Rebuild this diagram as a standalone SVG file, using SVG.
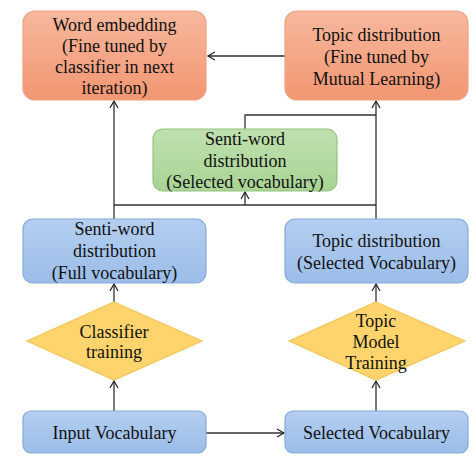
<svg xmlns="http://www.w3.org/2000/svg" width="474" height="461" viewBox="0 0 474 461">
<defs>
<linearGradient id="gOr" x1="0" y1="0" x2="0" y2="1"><stop offset="0" stop-color="#F7B89D"/><stop offset="1" stop-color="#F29672"/></linearGradient>
<linearGradient id="gGr" x1="0" y1="0" x2="0" y2="1"><stop offset="0" stop-color="#BFE0AE"/><stop offset="1" stop-color="#A9D394"/></linearGradient>
<linearGradient id="gBl" x1="0" y1="0" x2="0" y2="1"><stop offset="0" stop-color="#B4CEF0"/><stop offset="1" stop-color="#9BBDE8"/></linearGradient>
<marker id="arr" markerWidth="10" markerHeight="10" refX="8" refY="5" orient="auto" markerUnits="userSpaceOnUse"><path d="M1,1 L8,5 L1,9" fill="none" stroke="#222" stroke-width="1.2"/></marker>
<style>
text{font-family:"Liberation Serif","Times New Roman",serif;font-size:18px;fill:#111;text-anchor:middle}
.or{fill:url(#gOr);stroke:#EFA17F;stroke-width:1.2}
.gr{fill:url(#gGr);stroke:#95C47C;stroke-width:1.2}
.bl{fill:url(#gBl);stroke:#86AADB;stroke-width:1.2}
.dm{fill:#FFD46C;stroke:#F4C458;stroke-width:1.2}
.c{fill:none;stroke:#333;stroke-width:1.3}
</style>
</defs>
<g id="connectors">
<line class="c" x1="285" y1="56" x2="208" y2="56" marker-end="url(#arr)"/>
<line class="c" x1="114" y1="219" x2="114" y2="101" marker-end="url(#arr)"/>
<line class="c" x1="376" y1="219" x2="376" y2="101" marker-end="url(#arr)"/>
<line class="c" x1="114" y1="205" x2="376" y2="205"/>
<line class="c" x1="245" y1="205" x2="245" y2="192" marker-end="url(#arr)"/>
<polyline class="c" points="245,129 245,115 376,115"/>
<line class="c" x1="114" y1="302" x2="114" y2="284" marker-end="url(#arr)"/>
<line class="c" x1="376" y1="302" x2="376" y2="284" marker-end="url(#arr)"/>
<line class="c" x1="114" y1="411" x2="114" y2="381" marker-end="url(#arr)"/>
<line class="c" x1="376" y1="411" x2="376" y2="381" marker-end="url(#arr)"/>
<line class="c" x1="206" y1="433" x2="284" y2="433" marker-end="url(#arr)"/>
</g>
<g id="word-embedding">
<rect class="or" x="23" y="11" width="183" height="89" rx="12"/>
<text x="114.5" y="31">Word embedding</text>
<text x="114.5" y="52">(Fine tuned by</text>
<text x="114.5" y="73">classifier in next</text>
<text x="114.5" y="94">iteration)</text>
</g>
<g id="topic-distribution-fine">
<rect class="or" x="285" y="11" width="183" height="89" rx="12"/>
<text x="376.5" y="41">Topic distribution</text>
<text x="376.5" y="63">(Fine tuned by</text>
<text x="376.5" y="85">Mutual Learning)</text>
</g>
<g id="senti-word-selected">
<rect class="gr" x="153" y="129" width="184" height="62" rx="10"/>
<text x="245" y="145">Senti-word</text>
<text x="245" y="167">distribution</text>
<text x="245" y="188">(Selected vocabulary)</text>
</g>
<g id="senti-word-full">
<rect class="bl" x="23" y="219" width="183" height="64" rx="10"/>
<text x="114.5" y="235">Senti-word</text>
<text x="114.5" y="257">distribution</text>
<text x="114.5" y="279">(Full vocabulary)</text>
</g>
<g id="topic-distribution-selected">
<rect class="bl" x="285" y="219" width="183" height="64" rx="10"/>
<text x="376.5" y="247">Topic distribution</text>
<text x="376.5" y="269">(Selected Vocabulary)</text>
</g>
<g id="classifier-training">
<polygon class="dm" points="114,302 202,341 114,380 27,341"/>
<text x="114" y="338">Classifier</text>
<text x="114" y="358">training</text>
</g>
<g id="topic-model-training">
<polygon class="dm" points="376,302 465,341 376,380 289,341"/>
<text x="376" y="327">Topic</text>
<text x="376" y="348">Model</text>
<text x="376" y="369">Training</text>
</g>
<g id="input-vocabulary">
<rect class="bl" x="23" y="411" width="183" height="42" rx="8"/>
<text x="114.5" y="439">Input Vocabulary</text>
</g>
<g id="selected-vocabulary">
<rect class="bl" x="285" y="411" width="183" height="42" rx="8"/>
<text x="376.5" y="439">Selected Vocabulary</text>
</g>
</svg>
